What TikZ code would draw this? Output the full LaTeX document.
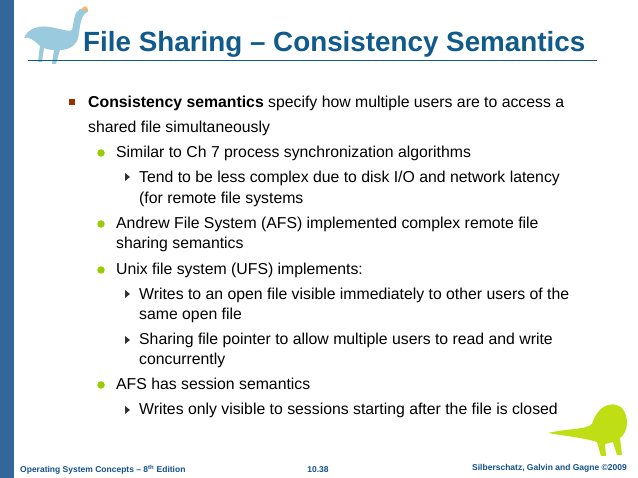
\documentclass[tikz,border=0pt]{standalone}
\usepackage{fontspec}
\setmainfont{Liberation Sans}
\definecolor{tblue}{RGB}{16,90,140}
\definecolor{bar}{RGB}{51,102,153}
\definecolor{sq}{RGB}{153,51,0}
\definecolor{dotc}{RGB}{153,204,0}
\definecolor{fblue}{RGB}{20,80,140}
\begin{document}
\begin{tikzpicture}[x=1pt,y=-1pt,
  txt/.style={anchor=base west,inner sep=0pt,font=\fontsize{15.8}{18}\selectfont},
  sqb/.style={fill=sq,minimum size=6.5pt,inner sep=0pt},
  dotb/.style={circle,fill=dotc,minimum size=7.5pt,inner sep=0pt},
  tri/.style={fill=black!80},
  foot/.style={font=\bfseries\fontsize{8.5}{10}\selectfont,text=fblue,inner sep=0pt}]
\useasboundingbox (0,0) rectangle (638,478);
\fill[white] (0,0) rectangle (638,478);
\fill[bar] (0,0) rectangle (14,478);
% top dinosaur (simplified)
\fill[cyan!40!teal!45] (24,38) .. controls (28,28) and (40,24) .. (55,28) .. controls (65,30) and (70,32) .. (72,30) .. controls (74,22) and (74,12) .. (80,9) .. controls (86,6) and (92,10) .. (86,13) .. controls (80,16) and (80,30) .. (78,38) .. controls (76,46) and (68,50) .. (60,50) -- (56,64) -- (52,64) -- (54,50) .. controls (50,50) and (46,49) .. (44,48) -- (42,62) -- (38,62) -- (40,46) .. controls (34,40) and (28,36) .. (24,38) -- cycle;
\fill[orange!60] (85,9) circle (2.5);
% title
\node[anchor=base west,inner sep=0pt,font=\bfseries\fontsize{27.8}{30}\selectfont,text=tblue] (title) at (83,52) {File Sharing – Consistency Semantics};
\draw[tblue,line width=1pt] (28,61) -- (597,61);
% bottom dinosaur (simplified)
\fill[yellow!75!green] (548,433) .. controls (570,428) and (585,430) .. (592,424) .. controls (598,405) and (612,400) .. (622,408) .. controls (630,418) and (628,432) .. (620,438) -- (622,455) -- (617,455) -- (613,442) -- (605,444) -- (606,456) -- (601,456) -- (597,442) .. controls (585,438) and (565,436) .. (548,433) -- cycle;
% body
\node[sqb] (b1) at (72,102) {};
\node[txt] (t1) at (88,108) {\textbf{Consistency semantics} specify how multiple users are to access a};
\node[txt] (t1b) at (88,133) {shared file simultaneously};
\node[dotb] (b2) at (101,153) {};
\node[txt] (t2) at (116,158) {Similar to Ch 7 process synchronization algorithms};
\fill[tri] (125,173) -- (130,177) -- (125,181) -- cycle;
\node[txt] (t3) at (139,183) {Tend to be less complex due to disk I/O and network latency};
\node[txt] (t3b) at (139,204) {(for remote file systems};
\node[dotb] (b4) at (101,224) {};
\node[txt] (t4) at (116,229) {Andrew File System (AFS) implemented complex remote file};
\node[txt] (t4b) at (116,249) {sharing semantics};
\node[dotb] (b5) at (101,270) {};
\node[txt] (t5) at (116,275) {Unix file system (UFS) implements:};
\fill[tri] (125,290) -- (130,294) -- (125,298) -- cycle;
\node[txt] (t6) at (139,300) {Writes to an open file visible immediately to other users of the};
\node[txt] (t6b) at (139,320) {same open file};
\fill[tri] (125,336) -- (130,340) -- (125,344) -- cycle;
\node[txt] (t7) at (139,345) {Sharing file pointer to allow multiple users to read and write};
\node[txt] (t7b) at (139,365) {concurrently};
\node[dotb] (b8) at (101,385) {};
\node[txt] (t8) at (116,390) {AFS has session semantics};
\fill[tri] (125,406) -- (130,410) -- (125,414) -- cycle;
\node[txt] (t9) at (139,415) {Writes only visible to sessions starting after the file is closed};
% footer
\node[foot,anchor=west] (f1) at (20,470) {Operating System Concepts – 8\textsuperscript{th} Edition};
\node[foot] (f2) at (318,470) {10.38};
\node[foot,anchor=east] (f3) at (627,468) {Silberschatz, Galvin and Gagne ©2009};
\end{tikzpicture}
\end{document}
